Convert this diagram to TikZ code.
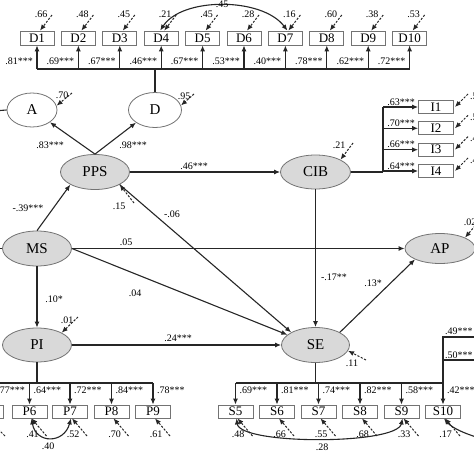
\documentclass[tikz,border=0pt]{standalone}
\usepackage{fontspec}
\setmainfont{Liberation Serif}
\usetikzlibrary{shapes.geometric,arrows.meta}
\definecolor{latfill}{gray}{0.85}
\definecolor{edge}{gray}{0.45}
\tikzset{
  lat/.style={ellipse, draw=edge, line width=0.8pt, fill=latfill, inner sep=0pt, font=\fontsize{15}{15}\selectfont},
  obs/.style={rectangle, draw=edge, line width=0.8pt, minimum width=34, minimum height=14, inner sep=0pt, font=\fontsize{13}{13}\selectfont},
  lbl/.style={inner sep=1pt, font=\fontsize{10}{10}\selectfont},
  ln/.style={line width=1.1pt, black!85},
  tip/.tip={Latex[length=6pt,width=5pt]},
  pth/.style={ln, -tip},
  err/.style={-tip, line width=1pt, dash pattern=on 2.2pt off 1.5pt, black!85},
}

\begin{document}
\begin{tikzpicture}[x=1pt,y=-1pt]
\useasboundingbox (0,0) rectangle (474,474);
\clip (0,0) rectangle (474,474);

\node[lat,fill=white,minimum width=50,minimum height=34] (A) at (32,110) {A};
\node[lat,fill=white,minimum width=53,minimum height=35] (D) at (155,110) {D};
\node[lat,minimum width=69,minimum height=35] (PPS) at (95,172) {PPS};
\node[lat,minimum width=70,minimum height=34] (CIB) at (315.5,172) {CIB};
\node[lat,minimum width=69,minimum height=35] (MS) at (37,248.5) {MS};
\node[lat,minimum width=70,minimum height=30] (AP) at (440,248.5) {AP};
\node[lat,minimum width=69,minimum height=34] (PI) at (37,345) {PI};
\node[lat,minimum width=68,minimum height=35] (SE) at (315.5,345) {SE};

\coordinate (astub) at (-20,112);
\coordinate (msstub) at (-20,248.5);
\draw[ln] (astub) -- (A.west);
\draw[ln] (msstub) -- (MS.west);

% D indicators
\coordinate (dbus) at (155,69);
\foreach \i/\x/\lo/\er in {1/37/.81***/.66, 2/78.4/.69***/.48, 3/119.8/.67***/.45, 4/161.2/.46***/.21, 5/202.6/.67***/.45, 6/244/.53***/.28, 7/285.4/.40***/.16, 8/326.8/.78***/.60, 9/368.2/.62***/.38, 10/409.6/.72***/.53}{
  \node[obs] (D\i) at (\x,38) {D\i};
  \draw[err] (\x+15,15) -- ([xshift=3pt]D\i.north);
  \node[lbl] at (\x+4,14) {\er};
  \draw[pth] (D\i.south |- dbus) -- (D\i.south);
  \node[lbl,anchor=east] at (\x-3,61) {\lo};
}
\draw[ln] (D.north) -- (dbus);
\draw[ln] (D1.south |- dbus) -- (D10.south |- dbus);
\draw[ln,tip-tip] ([xshift=-1pt]D4.north) .. controls (182,-3) and (262,-3) .. ([xshift=2pt]D7.north);
\node[lbl] at (222,4) {.45};

% structural paths
\draw[pth] (PPS.north) -- (A.south east);
\draw[pth] (PPS.north) -- (D.south west);
\draw[pth] (PPS.east) -- (CIB.west);
\draw[pth] (MS.north) -- (PPS.south west);
\draw[pth] (PPS.south east) -- (SE.north west);
\draw[pth] (MS.east) -- (AP.west);
\draw[pth] (MS.east) -- (SE.160);
\draw[pth] (MS.south) -- (PI.north);
\draw[pth] (PI.east) -- (SE.west);
\draw[pth] (CIB.south) -- (SE.north);
\draw[pth] (SE.north east) -- (AP.south west);

\node[lbl] at (50,145) {.83***};
\node[lbl] at (133,145) {.98***};
\node[lbl] at (194,166) {.46***};
\node[lbl] at (28,208) {-.39***};
\node[lbl] at (172,214) {-.06};
\node[lbl] at (126,242) {.05};
\node[lbl] at (135,293) {.04};
\node[lbl] at (54,299) {.10*};
\node[lbl] at (178,338) {.24***};
\node[lbl] at (334,277) {-.17**};
\node[lbl] at (373,283) {.13*};

% disturbances
\draw[err] (72,93) -- (A.10);
\node[lbl] at (62,95) {.70};
\draw[err] (194,94) -- (D.10);
\node[lbl] at (184,96) {.95};
\draw[err] (134,203) -- (PPS.south east);
\node[lbl] at (119,206) {.15};
\draw[err] (353,143) -- (CIB.north east);
\node[lbl] at (339,145) {.21};
\draw[err] (480,220) -- (AP.north east);
\node[lbl] at (470,222) {.02};
\draw[err] (78,317) -- (PI.north east);
\node[lbl] at (67,320) {.01};
\draw[err] (366,360) -- (SE.-10);
\node[lbl] at (352,363) {.11};

% I indicators
\coordinate (ibus) at (383,172);
\foreach \i/\y/\lo/\er in {1/107/.63***/.5, 2/128.3/.70***/.5, 3/149.7/.66***/.4, 4/171/.64***/.4}{
  \node[obs,minimum width=35,minimum height=13] (I\i) at (436,\y) {I\i};
  \draw[pth] (ibus |- I\i.west) -- (I\i.west);
  \node[lbl] at (401,\y-5) {\lo};
  \draw[err] (468,\y-13) -- ([xshift=1pt]I\i.east);
  \node[lbl,anchor=west] at (469,\y-11) {\er};
}
\draw[ln] (CIB.east) -- (ibus);
\draw[ln] (ibus |- I1.west) -- (ibus);

% P indicators
\coordinate (pbus) at (37,383);
\node[obs,minimum width=35,minimum height=13] (P5) at (-14.5,411.5) {};
\draw[pth] (P5.north |- pbus) -- (P5.north);
\draw[err] (-12+17,436) -- ([xshift=2pt]P5.south);
\node[lbl,anchor=east] at (26,390) {.77***};
\foreach \i/\x/\lo/\er in {6/29.5/.64***/.41, 7/70/.72***/.52, 8/111.5/.84***/.70, 9/153/.78***/.61}{
  \node[obs,minimum width=35,minimum height=13] (P\i) at (\x,411.5) {P\i};
  \draw[pth] (P\i.north |- pbus) -- (P\i.north);
  \node[lbl,anchor=west] at (\x+3,390) {\lo};
  \draw[err] (\x+17,436) -- ([xshift=2pt]P\i.south);
  \node[lbl] at (\x+3,434) {\er};
}
\draw[ln] (PI.south) -- (pbus);
\draw[ln] (P5.north |- pbus) -- (P9.north |- pbus);
\draw[ln,tip-tip] ([xshift=2pt]P6.south) .. controls (36,444) and (64,444) .. ([xshift=1pt]P7.south);
\node[lbl] at (48,446) {.40};

% S indicators
\coordinate (sbus) at (315.5,383);
\coordinate (s11) at (490,337);
\coordinate (s12) at (490,360);
\coordinate (s11cov) at (495,442);
\foreach \i/\x/\lo/\er in {5/235.5/.69***/.48, 6/277/.81***/.66, 7/318.5/.74***/.55, 8/360/.82***/.68, 9/401.5/.58***/.33, 10/443/.42***/.17}{
  \node[obs,minimum width=35,minimum height=13] (S\i) at (\x,411.5) {S\i};
  \draw[pth] (S\i.north |- sbus) -- (S\i.north);
  \node[lbl,anchor=west] at (\x+3,390) {\lo};
  \draw[err] (\x+17,436) -- ([xshift=2pt]S\i.south);
  \node[lbl] at (\x+2.5,434) {\er};
}
\draw[ln] (SE.south) -- (sbus);
\draw[ln] (S5.north |- sbus) -- (S10.north |- sbus);
\draw[ln] (S10.north |- sbus) -- (S10.north |- s11) -- (s11);
\draw[ln] (S10.north |- s12) -- (s12);
\node[lbl,anchor=west] at (444,331) {.49***};
\node[lbl,anchor=west] at (444,355) {.50***};
\draw[ln,tip-tip] ([xshift=1pt]S5.south) .. controls (240,445) and (397,445) .. ([xshift=1pt]S9.south);
\node[lbl] at (322,447) {.28};
\draw[pth] (s11cov) .. controls (468,436) and (452,428) .. ([xshift=1pt]S10.south);
\end{tikzpicture}
\end{document}
